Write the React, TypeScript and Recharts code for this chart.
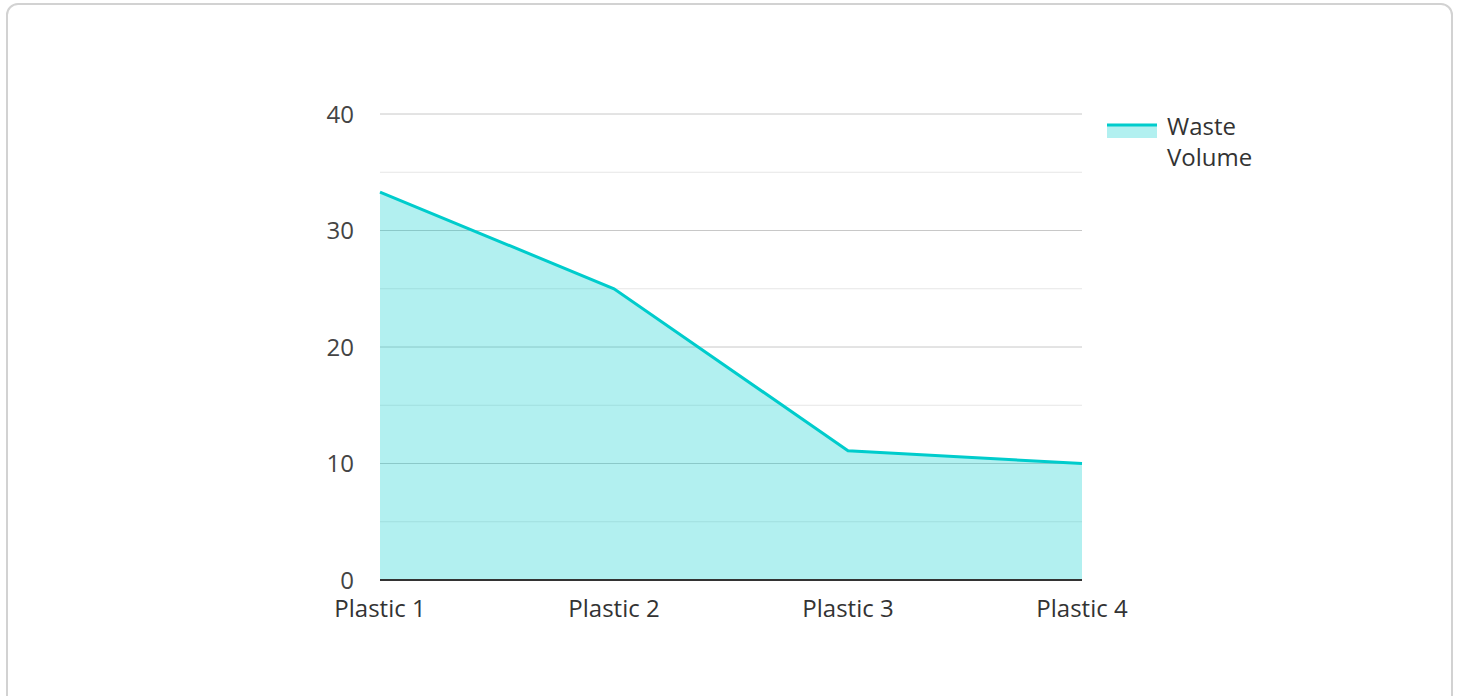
import React from "react";
import { AreaChart, Area, XAxis, YAxis, CartesianGrid, Legend } from "recharts";

const categories = ["Plastic 1", "Plastic 2", "Plastic 3", "Plastic 4"];
const wasteVolume = [33.3, 25.0, 11.1, 10.0];
const yTicks = [0, 10, 20, 30, 40];
const minorLines = [5, 15, 25, 35];
const majorLines = [10, 20, 30, 40];
const seriesName = "Waste Volume";

const data = categories.map((c, i) => ({ name: c, value: wasteVolume[i] }));

const FONT = "'Open Sans', sans-serif";
const STROKE = "#00cccc";

const LegendContent = () => (
  <div style={{ display: "flex", alignItems: "flex-start", paddingLeft: 25, fontFamily: FONT }}>
    <svg width={50} height={31} style={{ flex: "none" }}>
      <rect x={0} y={16} width={50} height={12} fill={STROKE} fillOpacity={0.3} />
      <line x1={0} y1={15} x2={50} y2={15} stroke={STROKE} strokeWidth={3} />
    </svg>
    <div style={{ marginLeft: 10, width: 110, fontSize: 24, lineHeight: "31px", color: "#333" }}>
      {seriesName}
    </div>
  </div>
);

export default function App() {
  return (
    <>
      <div
        style={{
          position: "absolute",
          left: 6,
          top: 3,
          width: 1447,
          height: 760,
          boxSizing: "border-box",
          border: "2px solid #d2d2d2",
          borderRadius: 12,
          background: "#fff",
        }}
      />
      <div style={{ position: "absolute", left: 300, top: 0 }}>
        <AreaChart
          width={982}
          height={640}
          data={data}
          margin={{ top: 114, right: 0, bottom: 0, left: 0 }}
        >
          <CartesianGrid
            horizontal
            vertical={false}
            horizontalValues={minorLines}
            stroke="#e6e6e6"
            strokeWidth={1}
          />
          <CartesianGrid
            horizontal
            vertical={false}
            horizontalValues={majorLines}
            stroke="#c8c8c8"
            strokeWidth={1}
          />
          <XAxis
            dataKey="name"
            type="category"
            padding={{ left: 0, right: 0 }}
            scale="point"
            height={60}
            tickLine={false}
            tickSize={6}
            tickMargin={14}
            axisLine={{ stroke: "#333", strokeWidth: 2 }}
            tick={{ fill: "#333", fontSize: 24, fontFamily: FONT }}
            interval={0}
          />
          <YAxis
            domain={[0, 40]}
            ticks={yTicks}
            width={80}
            axisLine={false}
            tickLine={false}
            tickSize={6}
            tickMargin={20}
            tick={{ fill: "#444", fontSize: 24, fontFamily: FONT }}
          />
          <Legend
            layout="vertical"
            align="right"
            verticalAlign="top"
            content={<LegendContent />}
            wrapperStyle={{ width: 200, top: 110, right: 0 }}
          />
          <Area
            type="linear"
            dataKey="value"
            name={seriesName}
            stroke={STROKE}
            strokeWidth={3}
            fill={STROKE}
            fillOpacity={0.3}
            dot={false}
            activeDot={false}
            isAnimationActive={false}
          />
        </AreaChart>
      </div>
    </>
  );
}
